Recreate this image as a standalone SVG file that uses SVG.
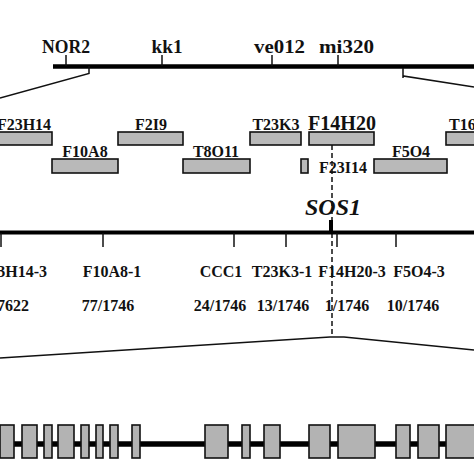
<svg xmlns="http://www.w3.org/2000/svg" width="474" height="474" viewBox="0 0 474 474">
<style>
text{font-family:"Liberation Serif","Times New Roman",serif;font-weight:bold;fill:#111}
.top{font-size:19px;text-anchor:middle}
.bac{font-size:16px;text-anchor:middle}
.mk{font-size:16px;text-anchor:middle}
.box{fill:#b9b9b9;stroke:#111;stroke-width:1.6}
.ex{fill:#b3b3b3;stroke:#111;stroke-width:1.6}
.thick{stroke:#000;fill:none}
.thin{stroke:#111;stroke-width:1.5;fill:none}
</style>
<rect width="474" height="474" fill="#fff"/>
<g id="connectors">
<line class="thick" x1="53" y1="66.5" x2="474" y2="66.5" stroke-width="4.5"/>
<line class="thin" x1="66" y1="55" x2="66" y2="66"/>
<line class="thin" x1="162" y1="55" x2="162" y2="66"/>
<line class="thin" x1="272" y1="55" x2="272" y2="66"/>
<line class="thin" x1="338" y1="55" x2="338" y2="66"/>
<polyline class="thin" points="89,66 89,73.5 0,98"/>
<polyline class="thin" points="403,68 403,78 403,76 474,87"/>
<line class="thin" x1="332" y1="137" x2="332" y2="337" stroke-dasharray="5,3"/>
<line class="thick" x1="0" y1="232.5" x2="474" y2="232.5" stroke-width="4"/>
<line class="thick" x1="331" y1="220" x2="331" y2="233" stroke-width="4"/>
<line class="thin" x1="1" y1="233" x2="1" y2="247"/>
<line class="thin" x1="103" y1="233" x2="103" y2="247"/>
<line class="thin" x1="234" y1="233" x2="234" y2="247"/>
<line class="thin" x1="286" y1="233" x2="286" y2="247"/>
<line class="thin" x1="337" y1="233" x2="337" y2="247"/>
<line class="thin" x1="396" y1="233" x2="396" y2="247"/>
<polyline class="thin" points="0,358 330,337 344,337 474,350"/>
<line class="thick" x1="0" y1="444" x2="474" y2="444" stroke-width="5.5"/>
</g>
<g id="markers-top">
<text class="top" x="66" y="53" textLength="48" lengthAdjust="spacingAndGlyphs">NOR2</text>
<text class="top" x="167" y="53" textLength="31" lengthAdjust="spacingAndGlyphs">kk1</text>
<text class="top" x="279.5" y="53" textLength="51" lengthAdjust="spacingAndGlyphs">ve012</text>
<text class="top" x="346.5" y="53" textLength="55" lengthAdjust="spacingAndGlyphs">mi320</text>
</g>
<g id="F23H14"><rect class="box" x="-2" y="132" width="54" height="13"/><text class="bac" x="24" y="130">F23H14</text></g>
<g id="F2I9"><rect class="box" x="118" y="132" width="65" height="13"/><text class="bac" x="151" y="130">F2I9</text></g>
<g id="T23K3"><rect class="box" x="250" y="132" width="51" height="13"/><text class="bac" x="276" y="130">T23K3</text></g>
<g id="F14H20"><rect class="box" x="309" y="132" width="65" height="13"/><text class="bac" x="342" y="130" style="font-size:20px">F14H20</text></g>
<g id="T16"><rect class="box" x="446" y="132" width="30" height="13"/><text x="449" y="130" style="font-size:16px">T16</text></g>
<g id="F10A8"><rect class="box" x="52" y="159" width="66" height="14"/><text class="bac" x="85" y="157">F10A8</text></g>
<g id="T8O11"><rect class="box" x="183" y="159" width="67" height="14"/><text class="bac" x="216" y="157">T8O11</text></g>
<g id="F23I14"><rect class="box" x="301" y="159" width="7" height="14"/><text x="319" y="173" style="font-size:16px">F23I14</text></g>
<g id="F5O4"><rect class="box" x="374" y="159" width="73" height="14"/><text class="bac" x="411" y="157">F5O4</text></g>
<g id="SOS1"><text x="305" y="215" style="font-size:24px;font-style:italic">SOS1</text></g>
<g id="markers-mid">
<text x="47" y="277" style="font-size:16px;text-anchor:end">F23H14-3</text>
<text class="mk" x="112" y="277">F10A8-1</text>
<text class="mk" x="221" y="277">CCC1</text>
<text class="mk" x="282" y="277">T23K3-1</text>
<text class="mk" x="352" y="277">F14H20-3</text>
<text class="mk" x="419" y="277">F5O4-3</text>
<text x="29" y="311" style="font-size:16px;text-anchor:end">7622</text>
<text class="mk" x="108" y="311">77/1746</text>
<text class="mk" x="220" y="311">24/1746</text>
<text class="mk" x="283" y="311">13/1746</text>
<text class="mk" x="347" y="311">1/1746</text>
<text class="mk" x="413" y="311">10/1746</text>
</g>
<g id="exons">
<rect class="ex" x="0" y="425" width="14" height="33"/>
<rect class="ex" x="22" y="425" width="15" height="33"/>
<rect class="ex" x="44" y="425" width="8" height="33"/>
<rect class="ex" x="58" y="425" width="16" height="33"/>
<rect class="ex" x="81" y="425" width="8" height="33"/>
<rect class="ex" x="96" y="425" width="7" height="33"/>
<rect class="ex" x="110" y="425" width="8" height="33"/>
<rect class="ex" x="132" y="425" width="8" height="33"/>
<rect class="ex" x="205" y="425" width="23" height="33"/>
<rect class="ex" x="242" y="425" width="8" height="33"/>
<rect class="ex" x="264" y="425" width="16" height="33"/>
<rect class="ex" x="309" y="425" width="21" height="33"/>
<rect class="ex" x="338" y="425" width="37" height="33"/>
<rect class="ex" x="396" y="425" width="14" height="33"/>
<rect class="ex" x="418" y="425" width="21" height="33"/>
<rect class="ex" x="446" y="425" width="30" height="33"/>
</g>
</svg>
